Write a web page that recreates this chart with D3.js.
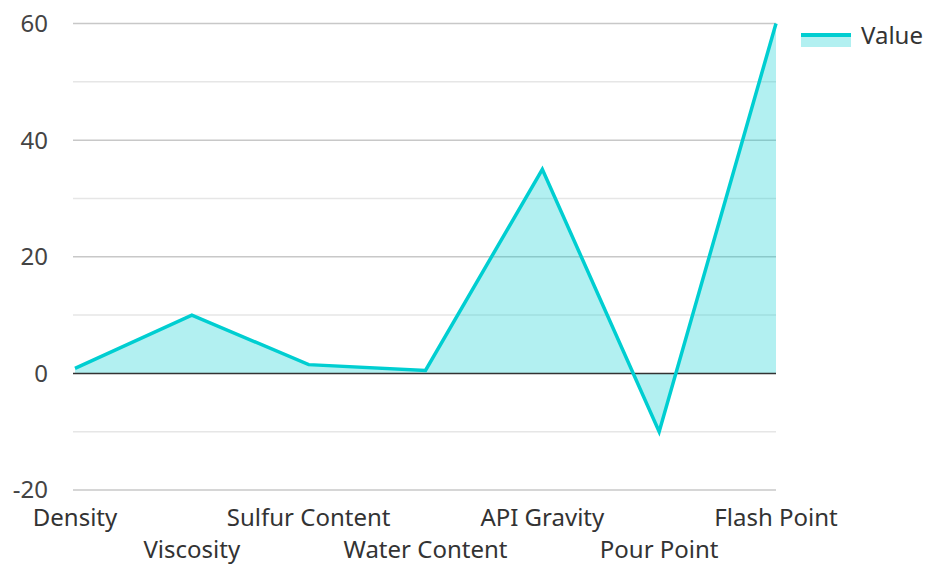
<!DOCTYPE html>
<html><head><meta charset="utf-8">
<script src="https://cdn.jsdelivr.net/npm/d3@7"></script>
<style>body{margin:0;background:#fff}text{font-family:"Noto Sans","Open Sans",sans-serif}</style>
</head><body><svg id="c" width="926" height="564"></svg>
<script>
const categories = ["Density","Viscosity","Sulfur Content","Water Content","API Gravity","Pour Point","Flash Point"];
const values = [0.87, 10, 1.5, 0.5, 35, -10, 60];
const majorTicks = [-20, 0, 20, 40, 60];
const minorTicks = [-10, 10, 30, 50];
const seriesName = "Value";

const svg = d3.select("#c");
const x = d3.scalePoint().domain(categories).range([75, 776]);
const y = d3.scaleLinear().domain([-20, 60]).range([490, 23.5]);
const color = "#00CED1";

const g = svg.append("g");
g.selectAll(".minor").data(minorTicks).enter().append("line")
  .attr("x1", 73).attr("x2", 776).attr("y1", d => y(d)).attr("y2", d => y(d))
  .attr("stroke", "#e6e6e6").attr("stroke-width", 1.5);
g.selectAll(".major").data(majorTicks.filter(d => d !== 0)).enter().append("line")
  .attr("x1", 73).attr("x2", 776).attr("y1", d => y(d)).attr("y2", d => y(d))
  .attr("stroke", "#c8c8c8").attr("stroke-width", 1.5);

const data = categories.map((c, i) => ({c, v: values[i]}));
const area = d3.area().x(d => x(d.c)).y0(y(0)).y1(d => y(d.v));
const line = d3.line().x(d => x(d.c)).y(d => y(d.v));
g.append("path").datum(data).attr("d", area).attr("fill", color).attr("fill-opacity", 0.3);

g.append("line").attr("x1", 73).attr("x2", 776).attr("y1", y(0)).attr("y2", y(0))
  .attr("stroke", "#333").attr("stroke-width", 1.5);

g.append("path").datum(data).attr("d", line).attr("fill", "none")
  .attr("stroke", color).attr("stroke-width", 3.5).attr("stroke-linejoin", "miter");

// y tick labels
g.selectAll(".yl").data(majorTicks).enter().append("text")
  .attr("x", 48).attr("y", d => y(d)).attr("dy", "0.35em").attr("text-anchor", "end")
  .attr("font-size", 24).attr("fill", "#444").text(d => d);

// x labels
g.selectAll(".xl").data(categories).enter().append("text")
  .attr("x", d => x(d)).attr("y", (d, i) => i % 2 === 0 ? 518 : 550).attr("dy", "0.35em")
  .attr("text-anchor", "middle").attr("font-size", 24).attr("fill", "#333").text(d => d);

// legend
const lg = svg.append("g");
lg.append("rect").attr("x", 801).attr("y", 35).attr("width", 50).attr("height", 12)
  .attr("fill", color).attr("fill-opacity", 0.3);
lg.append("line").attr("x1", 801).attr("x2", 851).attr("y1", 35).attr("y2", 35)
  .attr("stroke", color).attr("stroke-width", 4);
lg.append("text").attr("x", 861).attr("y", 36).attr("dy", "0.35em")
  .attr("font-size", 24).attr("fill", "#333").text(seriesName);
</script></body></html>
